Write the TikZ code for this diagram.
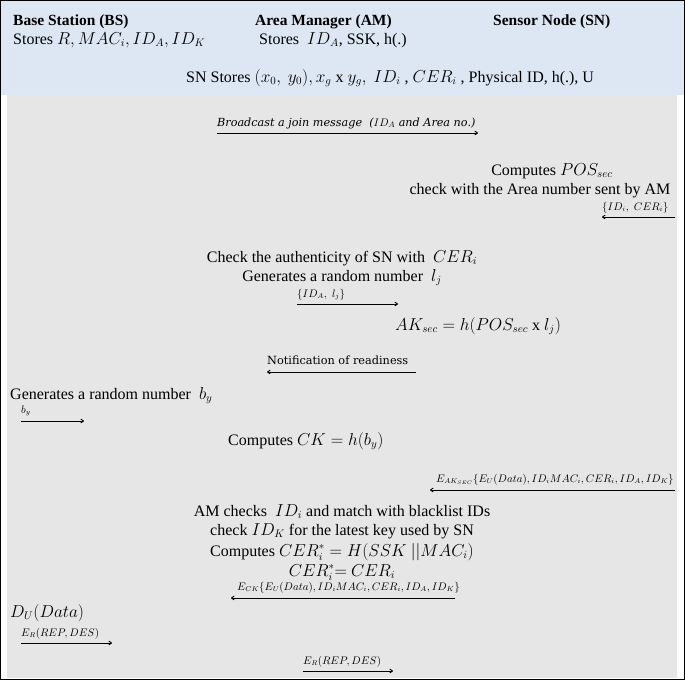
\documentclass[tikz,border=0pt]{standalone}
\usepackage{fontspec}
\setmainfont{Liberation Serif}
\newfontfamily\labfont{DejaVu Serif}
\usetikzlibrary{arrows.meta}
\definecolor{hdrblue}{HTML}{DCE7F3}
\definecolor{bodygrey}{HTML}{E6E6E6}
\begin{document}
\begin{tikzpicture}[x=1pt,y=-1pt,
  txt/.style={inner sep=0pt, font=\fontsize{16}{19}\selectfont},
  hdr/.style={inner sep=0pt, font=\fontsize{15.5}{18}\selectfont\bfseries},
  lab/.style={inner sep=0pt, font=\fontsize{10.5}{12}\selectfont\labfont\itshape},
  labt/.style={inner sep=0pt, font=\fontsize{11.2}{13}\selectfont\labfont\itshape},
  labu/.style={inner sep=0pt, font=\fontsize{11.3}{13}\selectfont\labfont},
  msg/.style={line width=0.9pt, -{To[length=3.5pt,width=4.5pt]}},
]
\useasboundingbox (0,0) rectangle (685,680);
\fill[hdrblue] (0,0) rectangle (685,95);
\fill[bodygrey] (7,95) rectangle (677,678);
\draw[line width=1.3pt] (0.65,0.65) rectangle (684.35,679.35);

% header
\node[hdr, anchor=base west] (bs) at (13,25) {Base Station (BS)};
\node[hdr, anchor=base west] (am) at (255,25) {Area Manager (AM)};
\node[hdr, anchor=base west] (sn) at (493,25) {Sensor Node (SN)};
\node[txt, anchor=base west] (bsst) at (13,44) {Stores $R, MAC_i, ID_A, ID_K$};
\node[txt, anchor=base west] (amst) at (259,44) {Stores \ $ID_A$, SSK, h(.)};
\node[txt, anchor=base west] (snst) at (186,82) {SN Stores $(x_0,\ y_0), x_g$ x $y_g,\ ID_i$ , $CER_i$ , Physical ID, h(.), U};

% 1 broadcast
\node[labt, anchor=base west] (l1) at (217,126) {Broadcast a join message \ ($ID_A$ and Area no.)};
\coordinate (a1s) at (217,133); \coordinate (a1e) at (478,133);
\draw[msg] (a1s) -- (a1e);

% SN computes
\node[txt, anchor=base] (t2) at (552,175) {Computes $POS_{sec}$};
\node[txt, anchor=base] (t3) at (540,194) {check with the Area number sent by AM};
\node[lab, anchor=base west] (l4) at (602,210) {$\{ID_i,\ CER_i\}$};
\coordinate (a2s) at (675,217); \coordinate (a2e) at (602,217);
\draw[msg] (a2s) -- (a2e);

% AM checks
\node[txt, anchor=base] (t5) at (342,262) {Check the authenticity of SN with \ $CER_i$};
\node[txt, anchor=base] (t6) at (342,281) {Generates a random number \ $l_j$};
\node[lab, anchor=base west] (l7) at (297,297) {$\{ID_A,\ l_j\}$};
\coordinate (a3s) at (297,304); \coordinate (a3e) at (398,304);
\draw[msg] (a3s) -- (a3e);
\node[txt, anchor=base west] (t8) at (395,330) {$AK_{sec} = h(POS_{sec}$ x $l_j)$};

% notification
\node[labu, anchor=base west] (l9) at (267,364) {Notification of readiness};
\coordinate (a4s) at (416,372); \coordinate (a4e) at (267,372);
\draw[msg] (a4s) -- (a4e);

% BS
\node[txt, anchor=base west] (t10) at (10,399) {Generates a random number \ $b_y$};
\node[lab, anchor=base west] (l11) at (21,413) {$b_y$};
\coordinate (a5s) at (21,421); \coordinate (a5e) at (84,421);
\draw[msg] (a5s) -- (a5e);
\node[txt, anchor=base west] (t12) at (228,445) {Computes $CK = h(b_y)$};

% data
\node[lab, anchor=base west] (l13) at (436,482) {$E_{AK_{SEC}}\{E_U(Data),ID_iMAC_i,CER_i,ID_A,ID_K\}$};
\coordinate (a6s) at (675,490); \coordinate (a6e) at (430,490);
\draw[msg] (a6s) -- (a6e);

\node[txt, anchor=base] (t14) at (342,516) {AM checks \ $ID_i$ and match with blacklist IDs};
\node[txt, anchor=base] (t15) at (342,535) {check $ID_K$ for the latest key used by SN};
\node[txt, anchor=base] (t16) at (342,556) {Computes $CER_i^* = H(SSK\ ||MAC_i)$};
\node[txt, anchor=base] (t17) at (342,576) {$CER_i^*{=}\ CER_i$};
\node[lab, anchor=base west] (l18) at (237,590) {$E_{CK}\{E_U(Data),ID_iMAC_i,CER_i,ID_A,ID_K\}$};
\coordinate (a7s) at (455,598); \coordinate (a7e) at (231,598);
\draw[msg] (a7s) -- (a7e);

\node[txt, anchor=base west] (t19) at (10,617) {$D_U(Data)$};
\node[lab, anchor=base west] (l20) at (21,636) {$E_R(REP,DES)$};
\coordinate (a8s) at (21,643); \coordinate (a8e) at (112,643);
\draw[msg] (a8s) -- (a8e);
\node[lab, anchor=base west] (l21) at (303,664) {$E_R(REP,DES)$};
\coordinate (a9s) at (303,671); \coordinate (a9e) at (393,671);
\draw[msg] (a9s) -- (a9e);
\end{tikzpicture}
\end{document}
